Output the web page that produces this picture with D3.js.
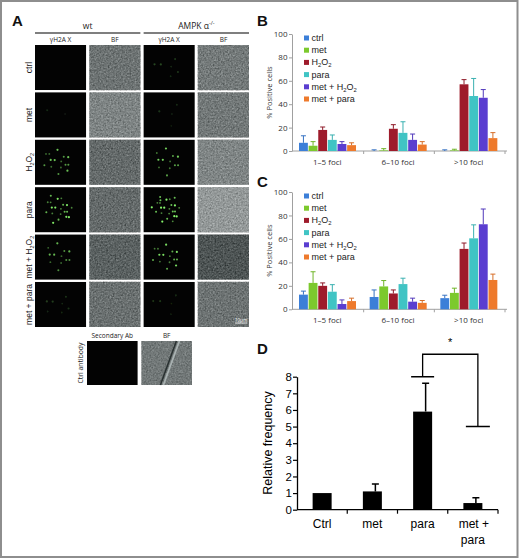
<!DOCTYPE html>
<html>
<head>
<meta charset="utf-8">
<script src="https://cdn.jsdelivr.net/npm/d3@7"></script>
<style>
  body { margin: 0; background: #fff; }
  svg { display: block; }
</style>
</head>
<body>
<div id="fig"></div>
<script>
// ---- data ----
// panel A: microscopy grid
var rowsA = ['ctrl', 'met', 'H2O2', 'para', 'met + H2O2', 'met + para']
var colsA = ['wt-foci', 'wt-bf', 'ko-foci', 'ko-bf']
var fociCountWt = [0, 2, 15, 20, 12, 7]
var fociCountKo = [6, 4, 12, 24, 15, 5]
var fociBrightWt = [0, 0.12, 0.75, 0.9, 0.7, 0.22]
var fociBrightKo = [0.25, 0.18, 0.8, 0.95, 0.85, 0.18]
var bfLightWt = [0.36, 0.48, 0.3, 0.3, 0.24, 0.34]
var bfLightKo = [0.41, 0.4, 0.49, 0.63, 0.15, 0.36]

// panels B and C: % positive cells
var fociGroups = ['1–5 foci', '6–10 foci', '>10 foci']
var treatments = ['ctrl', 'met', 'H2O2', 'para', 'met + H2O2', 'met + para']
var wtMeans = [[7, 4.5, 18, 9.5, 6, 5], [0, 0.5, 19, 15.5, 9.5, 5.5], [0, 0.5, 57, 47, 45.5, 11]]
var wtErrors = [[6, 3.5, 2.5, 4.2, 2, 2], [1, 1.5, 3.5, 9.5, 5, 2.5], [1, 1, 4, 15, 7, 4.7]]
var koMeans = [[12.5, 22.5, 20, 15, 4.5, 7], [10.5, 19.5, 13.5, 21.5, 6.5, 5.5], [9.5, 14, 51.5, 60.5, 72.5, 25]]
var koErrors = [[3, 9.5, 2.5, 6, 3.5, 2.5], [6, 5, 3, 5, 3, 2], [2.5, 4, 5, 11.5, 13, 5]]
var pctTicks = [0, 20, 40, 60, 80, 100]

// panel D: relative frequency
var dCategories = ['Ctrl', 'met', 'para', 'met + para']
var dMeans = [1, 1.1, 5.9, 0.4]
var dErrors = [0, 0.45, 1.7, 0.32]
var dTicks = [0, 1, 2, 3, 4, 5, 6, 7, 8]
var sigPair = ['para', 'met + para']
var sigEnds = [8, 5]
var sigTop = 9.35

var treatmentColor = d3.scaleOrdinal()
  .domain(treatments)
  .range(['#3c7fd8', '#7cc92d', '#9e1b2b', '#40c4c4', '#5a3ed0', '#ee7a2c'])

var W = 520
var H = 559
var SANS = "'Open Sans', 'Liberation Sans', sans-serif"
var ARIAL = "'Liberation Sans', Arial, sans-serif"

var svg = d3.select('#fig').append('svg')
  .attr('width', W)
  .attr('height', H)
  .attr('viewBox', '0 0 ' + W + ' ' + H)

// fine grain texture for the bright-field images
var defs = svg.append('defs')
var noise = defs.append('filter').attr('id', 'bfnoise')
  .attr('x', 0).attr('y', 0).attr('width', 1).attr('height', 1)
  .attr('color-interpolation-filters', 'sRGB')
noise.append('feTurbulence')
  .attr('type', 'fractalNoise')
  .attr('baseFrequency', 0.6)
  .attr('numOctaves', 2)
  .attr('seed', 7)
noise.append('feColorMatrix')
  .attr('type', 'matrix')
  .attr('values', '0.33 0.33 0.33 0 0  0.33 0.33 0.33 0 0  0.33 0.33 0.33 0 0  0 0 0 0 1')
var ct = noise.append('feComponentTransfer')
ct.append('feFuncR').attr('type', 'linear').attr('slope', 2.4).attr('intercept', -0.7)
ct.append('feFuncG').attr('type', 'linear').attr('slope', 2.4).attr('intercept', -0.7)
ct.append('feFuncB').attr('type', 'linear').attr('slope', 2.4).attr('intercept', -0.7)
var glow = defs.append('filter').attr('id', 'glow')
  .attr('x', '-1').attr('y', '-1').attr('width', 3).attr('height', 3)
glow.append('feGaussianBlur').attr('stdDeviation', 0.45)

// text with H2O2 subscripts
function chem(sel, str, fs) {
  var parts = str.split('H2O2')
  if (parts.length === 1) {
    sel.text(str)
    return
  }
  var sub = fs * 0.22
  sel.append('tspan').text(parts[0] + 'H')
  sel.append('tspan').attr('font-size', fs * 0.65).attr('dy', sub).text('2')
  sel.append('tspan').attr('dy', -sub).text('O')
  sel.append('tspan').attr('font-size', fs * 0.65).attr('dy', sub).text('2')
  if (parts[1]) sel.append('tspan').attr('dy', -sub).text(parts[1])
}

// outer frame
svg.append('rect')
  .attr('x', 1).attr('y', 1)
  .attr('width', 516.5).attr('height', 556)
  .attr('fill', 'none')
  .attr('stroke', '#8e8e8e')
  .attr('stroke-width', 2)

// panel letters
var letters = [['A', 12, 26], ['B', 257, 26], ['C', 257, 187], ['D', 257, 354]]
svg.selectAll('.letter')
  .data(letters)
  .enter()
  .append('text')
  .attr('class', 'letter')
  .attr('x', d => d[1])
  .attr('y', d => d[2])
  .attr('font-family', ARIAL)
  .attr('font-weight', 'bold')
  .attr('font-size', 15)
  .attr('fill', '#111')
  .text(d => d[0])

// ---- panel A ----
var ax = d3.scaleBand().domain(colsA).range([35, 249]).paddingInner(0.06)
var ay = d3.scaleBand().domain(rowsA).range([45, 327]).paddingInner(0.05)
var grey = d3.scaleLinear().domain([0, 1]).range(['#1e2727', '#e8eeee'])
var gA = svg.append('g')

// genotype headers with rules
var geno = [['wt', 'wt-foci', 'wt-bf'], ['AMPK α', 'ko-foci', 'ko-bf']]
geno.forEach(function (d) {
  var x1 = ax(d[1])
  var x2 = ax(d[2]) + ax.bandwidth()
  gA.append('line')
    .attr('x1', x1).attr('x2', x2).attr('y1', 33).attr('y2', 33)
    .attr('stroke', '#555').attr('stroke-width', 1.4)
  var t = gA.append('text')
    .attr('x', (x1 + x2) / 2).attr('y', 29)
    .attr('text-anchor', 'middle')
    .attr('font-family', SANS).attr('font-size', 8.5).attr('fill', '#222')
    .text(d[0])
  if (d[0] !== 'wt') {
    t.append('tspan').attr('font-size', 5.5).attr('dy', -4).text('-/-')
  }
})
colsA.forEach(function (c) {
  gA.append('text')
    .attr('x', ax(c) + ax.bandwidth() / 2).attr('y', 42)
    .attr('text-anchor', 'middle')
    .attr('font-family', SANS).attr('font-size', 6.5).attr('fill', '#222')
    .text(c.indexOf('foci') >= 0 ? 'γH2A X' : 'BF')
})

// row labels
rowsA.forEach(function (r) {
  var cy = ay(r) + ay.bandwidth() / 2
  var t = gA.append('text')
    .attr('transform', 'translate(32,' + cy + ') rotate(-90)')
    .attr('text-anchor', 'middle')
    .attr('font-family', ARIAL).attr('font-size', 8.5).attr('fill', '#222')
  chem(t, r, 8.5)
})

// image tiles
rowsA.forEach(function (r, i) {
  colsA.forEach(function (c) {
    var x = ax(c)
    var y = ay(r)
    var bw = ax.bandwidth()
    var bh = ay.bandwidth()
    if (c.indexOf('bf') >= 0) {
      var light = c === 'wt-bf' ? bfLightWt[i] : bfLightKo[i]
      gA.append('rect').attr('x', x).attr('y', y).attr('width', bw).attr('height', bh)
        .attr('fill', grey(light))
      gA.append('rect').attr('x', x).attr('y', y).attr('width', bw).attr('height', bh)
        .attr('filter', 'url(#bfnoise)')
        .attr('opacity', 0.28)
    } else {
      gA.append('rect').attr('x', x).attr('y', y).attr('width', bw).attr('height', bh)
        .attr('fill', '#030303')
      var n = c === 'wt-foci' ? fociCountWt[i] : fociCountKo[i]
      var b = c === 'wt-foci' ? fociBrightWt[i] : fociBrightKo[i]
      var cx = x + bw * 0.47
      var cyy = y + bh * 0.48
      var R = bw * 0.28
      var pts = d3.range(n).map(function (k) {
        var rr = R * Math.sqrt((k + 0.5) / n) * (0.85 + 0.3 * ((k * 7) % 5) / 4)
        var a = k * 2.39996 + ((k * 3) % 4) * 0.35
        return [cx + rr * Math.cos(a), cyy + rr * Math.sin(a), 0.55 + 0.45 * ((k * 5) % 3) / 2]
      })
      gA.selectAll(null)
        .data(pts)
        .enter()
        .append('circle')
        .attr('cx', d => d[0])
        .attr('cy', d => d[1])
        .attr('r', d => 0.7 + 0.4 * d[2])
        .attr('fill', d => d3.interpolateRgb('#050805', '#8cff70')(b * d[2]))
        .attr('filter', 'url(#glow)')
    }
  })
})

// scale bar
var sbx = ax('ko-bf') + ax.bandwidth() - 14
var sby = ay('met + para') + ay.bandwidth() - 4
gA.append('text')
  .attr('x', sbx + 6).attr('y', sby - 1.5)
  .attr('text-anchor', 'middle')
  .attr('font-family', SANS).attr('font-size', 4.5).attr('fill', '#fff')
  .text('10μm')
gA.append('line')
  .attr('x1', sbx).attr('x2', sbx + 12).attr('y1', sby).attr('y2', sby)
  .attr('stroke', '#fff').attr('stroke-width', 0.8)

// control antibody row
var ctrlCols = ['Secondary Ab', 'BF']
var cx2 = d3.scaleBand().domain(ctrlCols).range([87, 192]).paddingInner(0.07)
ctrlCols.forEach(function (c) {
  gA.append('text')
    .attr('x', cx2(c) + cx2.bandwidth() / 2).attr('y', 338)
    .attr('text-anchor', 'middle')
    .attr('font-family', SANS).attr('font-size', 6.5).attr('fill', '#222')
    .text(c)
})
gA.append('rect')
  .attr('x', cx2('Secondary Ab')).attr('y', 341)
  .attr('width', cx2.bandwidth()).attr('height', 44)
  .attr('fill', '#030303')
gA.append('rect')
  .attr('x', cx2('BF')).attr('y', 341)
  .attr('width', cx2.bandwidth()).attr('height', 44)
  .attr('fill', grey(0.4))
gA.append('rect')
  .attr('x', cx2('BF')).attr('y', 341)
  .attr('width', cx2.bandwidth()).attr('height', 44)
  .attr('filter', 'url(#bfnoise)')
  .attr('opacity', 0.22)
// the fibre in the control BF image
var fx = cx2('BF')
gA.append('path')
  .attr('d', 'M' + (fx + 19) + ',385 L' + (fx + 35) + ',341')
  .attr('stroke', '#2a3232').attr('stroke-width', 1.6).attr('fill', 'none')
gA.append('path')
  .attr('d', 'M' + (fx + 22) + ',385 L' + (fx + 38) + ',341')
  .attr('stroke', '#a9b2b2').attr('stroke-width', 1.8).attr('fill', 'none')
gA.append('text')
  .attr('transform', 'translate(83,363) rotate(-90)')
  .attr('text-anchor', 'middle')
  .attr('font-family', SANS).attr('font-size', 6.8).attr('fill', '#222')
  .text('Ctrl antibody')

// ---- panels B and C ----
function groupedChart(y0, y100, means, errors) {
  var y = d3.scaleLinear().domain([0, 100]).range([y0, y100])
  var x0 = d3.scaleBand().domain(fociGroups).range([292, 504])
  var x1 = d3.scaleBand().domain(treatments).range([7, 64]).paddingInner(0.08)
  var g = svg.append('g')

  var yAxis = g.append('g')
    .attr('transform', 'translate(292,0)')
    .call(d3.axisLeft(y).tickValues(pctTicks).tickSize(3).tickSizeOuter(0).tickPadding(1.5))
  yAxis.select('.domain').attr('stroke', '#a0a0a0')
  yAxis.selectAll('.tick line').attr('stroke', '#a0a0a0')
  yAxis.selectAll('.tick text')
    .attr('font-family', SANS).attr('font-size', 8).attr('fill', '#333')

  g.append('line')
    .attr('x1', 292).attr('x2', 507).attr('y1', y(0)).attr('y2', y(0))
    .attr('stroke', '#a0a0a0')
  g.selectAll(null)
    .data(fociGroups)
    .enter()
    .append('line')
    .attr('x1', d => x0(d) + x0.bandwidth() + 1)
    .attr('x2', d => x0(d) + x0.bandwidth() + 1)
    .attr('y1', y(0)).attr('y2', y(0) + 3)
    .attr('stroke', '#a0a0a0')
  g.selectAll(null)
    .data(fociGroups)
    .enter()
    .append('text')
    .attr('x', d => x0(d) + x0.bandwidth() / 2)
    .attr('y', y(0) + 14)
    .attr('text-anchor', 'middle')
    .attr('font-family', SANS).attr('font-size', 8).attr('fill', '#333')
    .text(d => d)

  g.append('text')
    .attr('transform', 'translate(272,' + (y0 + y100) / 2 + ') rotate(-90)')
    .attr('text-anchor', 'middle')
    .attr('font-family', SANS).attr('font-size', 7.5).attr('fill', '#333')
    .text('% Positive cells')

  fociGroups.forEach(function (grp, gi) {
    var gg = g.append('g').attr('transform', 'translate(' + x0(grp) + ',0)')
    var rows = treatments.map((t, ti) => ({ t: t, v: means[gi][ti], e: errors[gi][ti] }))
    gg.selectAll('rect')
      .data(rows)
      .enter()
      .append('rect')
      .attr('x', d => x1(d.t))
      .attr('y', d => y(d.v))
      .attr('width', x1.bandwidth())
      .attr('height', d => y(0) - y(d.v))
      .attr('fill', d => treatmentColor(d.t))
    gg.selectAll('.eb')
      .data(rows)
      .enter()
      .append('path')
      .attr('class', 'eb')
      .attr('d', d => {
        var cx = x1(d.t) + x1.bandwidth() / 2
        return 'M' + cx + ',' + y(d.v) + 'V' + y(d.v + d.e) +
          'M' + (cx - 2.5) + ',' + y(d.v + d.e) + 'H' + (cx + 2.5)
      })
      .attr('stroke', d => d3.color(treatmentColor(d.t)).darker(0.3))
      .attr('stroke-width', 1)
      .attr('fill', 'none')
  })

  // legend
  var lg = g.append('g')
  treatments.forEach(function (t, i) {
    var ly = y100 + 4 + i * 12.2
    lg.append('rect')
      .attr('x', 304).attr('y', ly - 2.5)
      .attr('width', 5).attr('height', 5)
      .attr('fill', treatmentColor(t))
    var tx = lg.append('text')
      .attr('x', 311.5).attr('y', ly + 3)
      .attr('font-family', ARIAL).attr('font-size', 9).attr('fill', '#222')
    chem(tx, t, 9)
  })
}

groupedChart(151, 34, wtMeans, wtErrors)
groupedChart(309.3, 192, koMeans, koErrors)

// ---- panel D ----
var yD = d3.scaleLinear().domain([0, 8]).range([509.7, 376.7])
var xD = d3.scaleBand().domain(dCategories).range([297, 498])
var gD = svg.append('g')
var barW = 19

var yAxD = gD.append('g')
  .attr('transform', 'translate(297,0)')
  .call(d3.axisLeft(yD).tickValues(dTicks).tickSize(4).tickSizeOuter(0).tickPadding(1))
yAxD.select('.domain').attr('stroke', '#000').attr('stroke-width', 1.3)
yAxD.selectAll('.tick line').attr('stroke', '#000').attr('stroke-width', 1.2)
yAxD.selectAll('.tick text')
  .attr('font-family', ARIAL).attr('font-size', 11.5).attr('fill', '#000')

gD.append('line')
  .attr('x1', 297).attr('x2', 498).attr('y1', yD(0)).attr('y2', yD(0))
  .attr('stroke', '#000').attr('stroke-width', 1.3)
gD.selectAll(null)
  .data(dCategories)
  .enter()
  .append('line')
  .attr('x1', d => xD(d) + xD.bandwidth())
  .attr('x2', d => xD(d) + xD.bandwidth())
  .attr('y1', yD(0)).attr('y2', yD(0) + 4)
  .attr('stroke', '#000').attr('stroke-width', 1.2)

gD.selectAll('.dbar')
  .data(dCategories)
  .enter()
  .append('rect')
  .attr('class', 'dbar')
  .attr('x', d => xD(d) + xD.bandwidth() / 2 - barW / 2)
  .attr('y', (d, i) => yD(dMeans[i]))
  .attr('width', barW)
  .attr('height', (d, i) => yD(0) - yD(dMeans[i]))
  .attr('fill', '#000')

gD.selectAll('.deb')
  .data(dCategories.filter((d, i) => dErrors[i] > 0))
  .enter()
  .append('path')
  .attr('class', 'deb')
  .attr('d', d => {
    var i = dCategories.indexOf(d)
    var cx = xD(d) + xD.bandwidth() / 2 + 3
    var top = yD(dMeans[i] + dErrors[i])
    return 'M' + cx + ',' + yD(dMeans[i]) + 'V' + top + 'M' + (cx - 3.5) + ',' + top + 'H' + (cx + 3.5)
  })
  .attr('stroke', '#000').attr('stroke-width', 1.5).attr('fill', 'none')

dCategories.forEach(function (c) {
  var lines = c === 'met + para' ? ['met +', 'para'] : [c]
  lines.forEach(function (l, k) {
    gD.append('text')
      .attr('x', xD(c) + xD.bandwidth() / 2 + (k === 0 && lines.length > 1 ? 1 : 0))
      .attr('y', 528 + k * 16)
      .attr('text-anchor', 'middle')
      .attr('font-family', ARIAL).attr('font-size', 12).attr('fill', '#000')
      .text(l)
  })
})

gD.append('text')
  .attr('transform', 'translate(272,443) rotate(-90)')
  .attr('text-anchor', 'middle')
  .attr('font-family', ARIAL).attr('font-size', 12.5).attr('fill', '#000')
  .text('Relative frequency')

// significance bracket
var sx1 = xD(sigPair[0]) + xD.bandwidth() / 2
var sx2 = xD(sigPair[1]) + xD.bandwidth() / 2 + 5
gD.append('path')
  .attr('d', 'M' + sx1 + ',' + yD(sigEnds[0]) + 'V' + yD(sigTop) + 'H' + sx2 + 'V' + yD(sigEnds[1]))
  .attr('stroke', '#000').attr('stroke-width', 1.3).attr('fill', 'none')
gD.append('path')
  .attr('d', 'M' + (sx1 - 11.5) + ',' + yD(sigEnds[0]) + 'H' + (sx1 + 11.5) +
    'M' + (sx2 - 12) + ',' + yD(sigEnds[1]) + 'H' + (sx2 + 12))
  .attr('stroke', '#000').attr('stroke-width', 1.5).attr('fill', 'none')
gD.append('text')
  .attr('x', (sx1 + sx2) / 2).attr('y', 346)
  .attr('text-anchor', 'middle')
  .attr('font-family', ARIAL).attr('font-size', 11).attr('fill', '#000')
  .text('*')
</script>
</body>
</html>
